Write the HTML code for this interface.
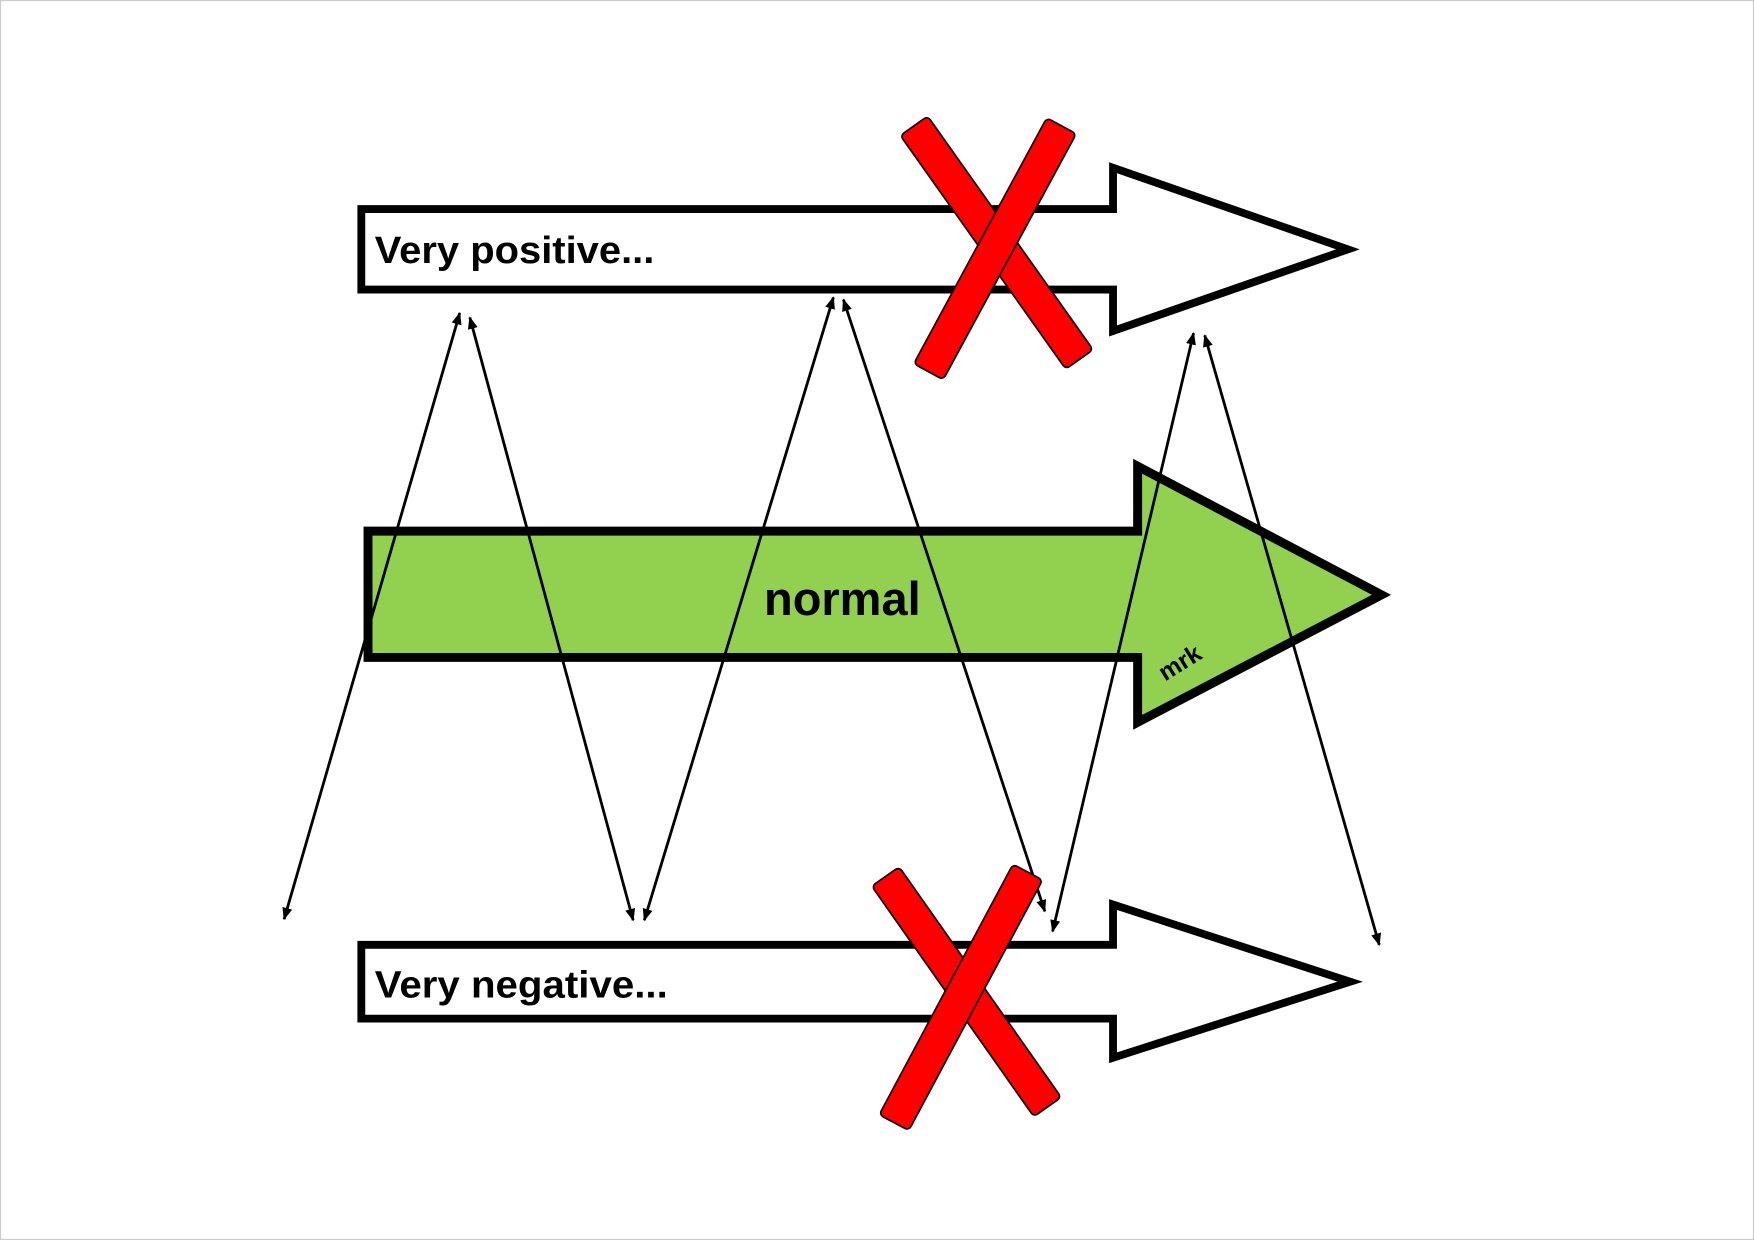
<!DOCTYPE html>
<html><head><meta charset="utf-8"><style>
html,body{margin:0;padding:0;background:#fff;width:1754px;height:1240px;overflow:hidden}
svg{display:block}
text{font-family:"Liberation Sans",sans-serif;font-weight:bold}
</style></head><body>
<svg width="1754" height="1240" viewBox="0 0 1568 1109" preserveAspectRatio="none" xmlns="http://www.w3.org/2000/svg">
<defs>
<marker id="a" viewBox="0 0 10 10" refX="9" refY="5" markerWidth="4.5" markerHeight="4.5" orient="auto-start-reverse">
<path d="M0,1 L10,5 L0,9 z" fill="#000"/></marker>
</defs>
<rect x="0.5" y="0.5" width="1567" height="1108" fill="#fff" stroke="#ccc"/>
<!-- top arrow -->
<path d="M323,187 H995 V150 L1205,223 L995,296 V259 H323 Z" fill="#fff" stroke="#000" stroke-width="7"/>
<text x="335" y="235" font-size="34" textLength="250" lengthAdjust="spacingAndGlyphs">Very positive...</text>
<!-- middle arrow -->
<path d="M329,475 H1017 V417 L1235,532 L1017,646 V588 H329 Z" fill="#92d050" stroke="#000" stroke-width="8"/>
<text x="753" y="550" font-size="42" text-anchor="middle">normal</text>
<text x="1055" y="600" font-size="22" text-anchor="middle" transform="rotate(-32 1055 593)">mrk</text>
<!-- bottom arrow -->
<path d="M323,845 H995 V809 L1207,878 L995,946 V911 H323 Z" fill="#fff" stroke="#000" stroke-width="7"/>
<text x="335" y="892" font-size="34" textLength="262" lengthAdjust="spacingAndGlyphs">Very negative...</text>
<!-- lines -->
<g stroke="#000" stroke-width="2.5" fill="none" marker-start="url(#a)" marker-end="url(#a)">
<line x1="254" y1="822" x2="411" y2="280"/>
<line x1="420" y1="284" x2="566" y2="823"/>
<line x1="576" y1="823" x2="745" y2="266"/>
<line x1="754" y1="268" x2="934" y2="815"/>
<line x1="941" y1="833" x2="1067" y2="298"/>
<line x1="1077" y1="300" x2="1233" y2="845"/>
</g>
<!-- red X's as rotated rounded rects -->
<g fill="#ff0000" stroke="#000" stroke-width="1.5">
<rect x="-15" y="-128" width="30" height="256" rx="4" transform="translate(891,217) rotate(-35.3)"/>
<rect x="-15" y="-125" width="30" height="250" rx="4" transform="translate(889.5,222.5) rotate(28.4)"/>
<rect x="-15" y="-126" width="30" height="252" rx="4" transform="translate(864,887) rotate(-35.1)"/>
<rect x="-15" y="-127" width="30" height="254" rx="4" transform="translate(859,892) rotate(28.1)"/>
</g>
</svg>
</body></html>
